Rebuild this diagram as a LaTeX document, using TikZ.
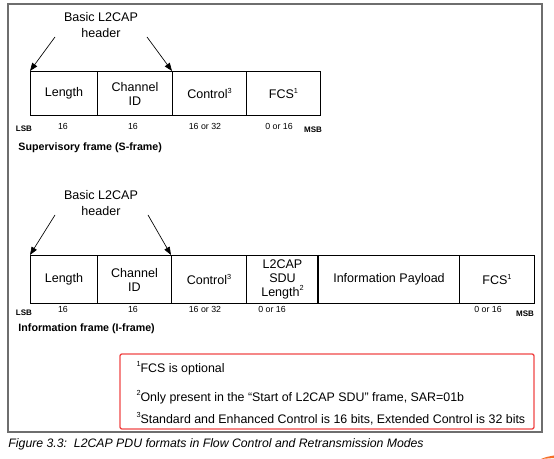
\documentclass[tikz,border=0pt]{standalone}
\usepackage{fontspec}
\setmainfont{Liberation Sans}
\usetikzlibrary{arrows.meta}

\newcommand\fnmark[1]{\raisebox{0.85ex}{\fontsize{5.5}{6}\selectfont #1}}

\tikzset{every picture/.style={line width=0.75pt}}
\tikzset{
  cell/.style={draw, anchor=north west, inner sep=0pt, align=center, font=\fontsize{9.4}{10.5}\selectfont},
  bits/.style={inner sep=0.75pt, font=\fontsize{6.6}{7}\selectfont},
  endb/.style={inner sep=0.75pt, font=\bfseries\fontsize{6}{7}\selectfont},
  hdr/.style={inner sep=0.75pt, align=center, font=\fontsize{9.4}{12}\selectfont},
  ttl/.style={anchor=west, inner sep=0.75pt, font=\bfseries\fontsize{8}{10}\selectfont},
  note/.style={anchor=west, inner sep=0.75pt, font=\fontsize{9.3}{10}\selectfont},
  ptr/.style={-{Triangle[length=6pt,width=4.5pt]}, line width=0.5pt},
}
\definecolor{framegray}{RGB}{110,110,110}
\definecolor{notered}{RGB}{240,70,70}
\definecolor{swoosh}{RGB}{245,110,40}

\begin{document}
\begin{tikzpicture}[x=0.75pt,y=0.75pt,yscale=-1,xscale=1]
\useasboundingbox (0,0) rectangle (554,459);

%Outer frame
\draw [color=framegray, line width=1.1pt] (8,4) rectangle (542,432);

%Supervisory frame
\node [hdr] (shdr) at (101,25) {Basic L2CAP\\header};
\node [cell, minimum width=50.25pt, minimum height=33pt] (slen) at (30,71) {Length};
\node [cell, minimum width=56.25pt, minimum height=33pt] (scid) at (97,71) {Channel\\ID};
\node [cell, minimum width=55.5pt, minimum height=33pt] (sctl) at (172,71) {Control\fnmark{3}};
\node [cell, minimum width=55.5pt, minimum height=33pt] (sfcs) at (246,71) {FCS\fnmark{1}};
\coordinate (sa1) at (55,37);
\coordinate (sa2) at (147,37);
\draw [ptr] (sa1) -- (slen.north west);
\draw [ptr] (sa2) -- (sctl.north west);
\node [endb] (slsb) at (24,129) {LSB};
\node [bits] (sb1) at (63,126) {16};
\node [bits] (sb2) at (133,126) {16};
\node [bits] (sb3) at (205,126) {16 or 32};
\node [bits] (sb4) at (279,126) {0 or 16};
\node [endb] (smsb) at (313,130) {MSB};
\node [ttl] (stitle) at (17,148) {Supervisory frame (S-frame)};

%Information frame
\node [hdr] (ihdr) at (101,203) {Basic L2CAP\\header};
\node [cell, minimum width=50.25pt, minimum height=36pt] (ilen) at (30,255) {Length};
\node [cell, minimum width=55.5pt, minimum height=36pt] (icid) at (97,255) {Channel\\ID};
\node [cell, minimum width=56.25pt, minimum height=36pt] (ictl) at (171,255) {Control\fnmark{3}};
\node [cell, minimum width=54pt, minimum height=36pt] (isdu) at (246,255) {L2CAP\\SDU\\Length\fnmark{2}};
\node [cell, minimum width=105.75pt, minimum height=36pt] (ipay) at (318,255) {Information Payload};
\node [cell, minimum width=56.25pt, minimum height=36pt] (ifcs) at (459,255) {FCS\fnmark{1}};
\draw [line width=1.1pt] (ipay.north west) -- (ipay.south west);
\coordinate (ia1) at (55,215);
\coordinate (ia2) at (148,215);
\draw [ptr] (ia1) -- (ilen.north west);
\draw [ptr] (ia2) -- (ictl.north west);
\node [endb] (ilsb) at (24,313) {LSB};
\node [bits] (ib1) at (63,309) {16};
\node [bits] (ib2) at (133,309) {16};
\node [bits] (ib3) at (205,309) {16 or 32};
\node [bits] (ib4) at (272,309) {0 or 16};
\node [bits] (ib5) at (488,309) {0 or 16};
\node [endb] (imsb) at (525,314) {MSB};
\node [ttl] (ititle) at (17,329) {Information frame (I-frame)};

%Footnotes
\draw [color=notered, line width=1pt, rounded corners=1.5pt] (120,354) rectangle (534,429);
\node [note] (n1) at (135,368) {\fnmark{1}FCS is optional};
\node [note] (n2) at (135,397) {\fnmark{2}Only present in the “Start of L2CAP SDU” frame, SAR=01b};
\node [note] (n3) at (135,419) {\fnmark{3}Standard and Enhanced Control is 16 bits, Extended Control is 32 bits};

%Caption
\node [anchor=west, inner sep=0.75pt, font=\itshape\fontsize{9.2}{10}\selectfont] (cap) at (7,444) {Figure 3.3:\ \ L2CAP PDU formats in Flow Control and Retransmission Modes};

%Swoosh
\fill [swoosh] (541,459) .. controls (546,457) .. (554,455.5) -- (554,458) .. controls (548,458.5) .. (541,459) -- cycle;

\end{tikzpicture}
\end{document}
